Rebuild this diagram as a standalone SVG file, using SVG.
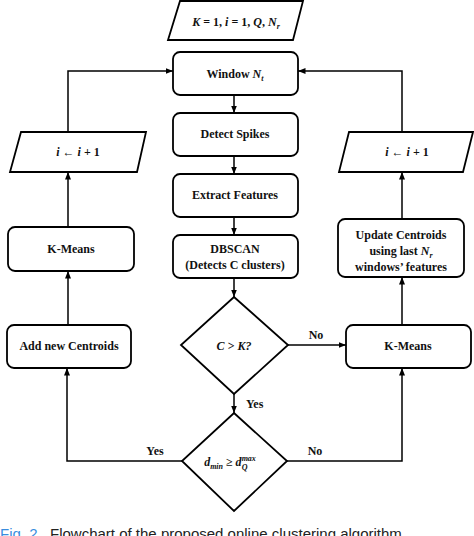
<svg xmlns="http://www.w3.org/2000/svg" width="474" height="536" viewBox="0 0 474 536">
<defs>
<marker id="ah" viewBox="0 0 10 10" refX="10" refY="5" markerWidth="5" markerHeight="5" orient="auto">
<path d="M0,1 L10,5 L0,9 z" fill="#000"/>
</marker>
<style>
.box{fill:#fff;stroke:#000;stroke-width:1.8}
.t{font-family:"Liberation Serif",serif;font-weight:bold;font-size:12px;fill:#111;text-anchor:middle}
.m{font-style:italic}
.c{fill:none;stroke:#000;stroke-width:1.5}
.cap{font-family:"Liberation Sans",Arial,sans-serif;font-size:15px}
</style>
</defs>
<rect width="474" height="536" fill="#fff"/>
<g id="connectors">
<line class="c" x1="234" y1="95" x2="234" y2="113" marker-end="url(#ah)"/>
<line class="c" x1="234" y1="156" x2="234" y2="174" marker-end="url(#ah)"/>
<line class="c" x1="234" y1="217" x2="234" y2="235" marker-end="url(#ah)"/>
<line class="c" x1="234" y1="278" x2="234" y2="297" marker-end="url(#ah)"/>
<line class="c" x1="234" y1="394" x2="234" y2="413" marker-end="url(#ah)"/>
<polyline class="c" points="182,461 67,461 67,368" marker-end="url(#ah)"/>
<line class="c" x1="68" y1="325" x2="68" y2="271" marker-end="url(#ah)"/>
<line class="c" x1="68" y1="227" x2="68" y2="172" marker-end="url(#ah)"/>
<polyline class="c" points="68,132 68,71 173,71" marker-end="url(#ah)"/>
<polyline class="c" points="287,461 402,461 402,368" marker-end="url(#ah)"/>
<line class="c" x1="288" y1="345" x2="346" y2="345" marker-end="url(#ah)"/>
<line class="c" x1="402" y1="325" x2="402" y2="277" marker-end="url(#ah)"/>
<line class="c" x1="402" y1="219" x2="402" y2="172" marker-end="url(#ah)"/>
<polyline class="c" points="402,132 402,71 298,71" marker-end="url(#ah)"/>
<text class="t" x="246" y="408" style="text-anchor:start">Yes</text>
<text class="t" x="155" y="455">Yes</text>
<text class="t" x="315" y="455">No</text>
<text class="t" x="316" y="339">No</text>
</g>
<g id="init">
<polygon class="box" points="180,1 303,1 293,40 168,40"/>
<text class="t" x="236" y="26"><tspan class="m">K</tspan> = 1,  <tspan class="m">i</tspan> = 1,  <tspan class="m">Q</tspan>,  <tspan class="m">N</tspan><tspan class="m" font-size="8" dy="3">r</tspan></text>
</g>
<g id="window">
<rect class="box" x="173" y="52" width="125" height="43" rx="7"/>
<text class="t" x="235" y="78">Window <tspan class="m">N</tspan><tspan class="m" font-size="8" dy="3">t</tspan></text>
</g>
<g id="detect">
<rect class="box" x="173" y="113" width="125" height="43" rx="7"/>
<text class="t" x="235" y="138">Detect Spikes</text>
</g>
<g id="extract">
<rect class="box" x="173" y="174" width="125" height="43" rx="7"/>
<text class="t" x="235" y="199">Extract Features</text>
</g>
<g id="dbscan">
<rect class="box" x="173" y="235" width="125" height="43" rx="7"/>
<text class="t" x="235" y="253">DBSCAN</text>
<text class="t" x="235" y="269">(Detects C clusters)</text>
</g>
<g id="dec1">
<polygon class="box" points="234,297 288,345 234,394 181,345"/>
<text class="t m" x="234" y="350">C &gt; K?</text>
</g>
<g id="dec2">
<polygon class="box" points="234,413 287,461 234,511 182,461"/>
<text class="t m" x="230" y="466">d<tspan font-size="8" dy="3">min</tspan><tspan dy="-3"> ≥ d</tspan><tspan font-size="8" dy="-5">max</tspan><tspan font-size="8" dx="-14" dy="9">Q</tspan></text>
</g>
<g id="incL">
<polygon class="box" points="21,132 146,132 137,172 10,172"/>
<text class="t" x="78" y="156"><tspan class="m">i</tspan> ← <tspan class="m">i</tspan> + 1</text>
</g>
<g id="kmeansL">
<rect class="box" x="8" y="227" width="126" height="44" rx="7"/>
<text class="t" x="71" y="253">K-Means</text>
</g>
<g id="addnew">
<rect class="box" x="7" y="325" width="124" height="43" rx="7"/>
<text class="t" x="69" y="350">Add new Centroids</text>
</g>
<g id="incR">
<polygon class="box" points="349,132 473,132 463,172 339,172"/>
<text class="t" x="407" y="156"><tspan class="m">i</tspan> ← <tspan class="m">i</tspan> + 1</text>
</g>
<g id="update">
<rect class="box" x="338" y="219" width="126" height="58" rx="7"/>
<text class="t" x="401" y="239">Update Centroids</text>
<text class="t" x="401" y="255">using last <tspan class="m">N</tspan><tspan class="m" font-size="8" dy="3">r</tspan></text>
<text class="t" x="401" y="271">windows’ features</text>
</g>
<g id="kmeansR">
<rect class="box" x="346" y="325" width="125" height="43" rx="7"/>
<text class="t" x="408" y="350">K-Means</text>
</g>
<g id="caption">
<text class="cap" x="0" y="539" fill="#3a8dde">Fig. 2</text>
<text class="cap" x="50" y="539" fill="#222">Flowchart of the proposed online clustering algorithm.</text>
</g>
</svg>
